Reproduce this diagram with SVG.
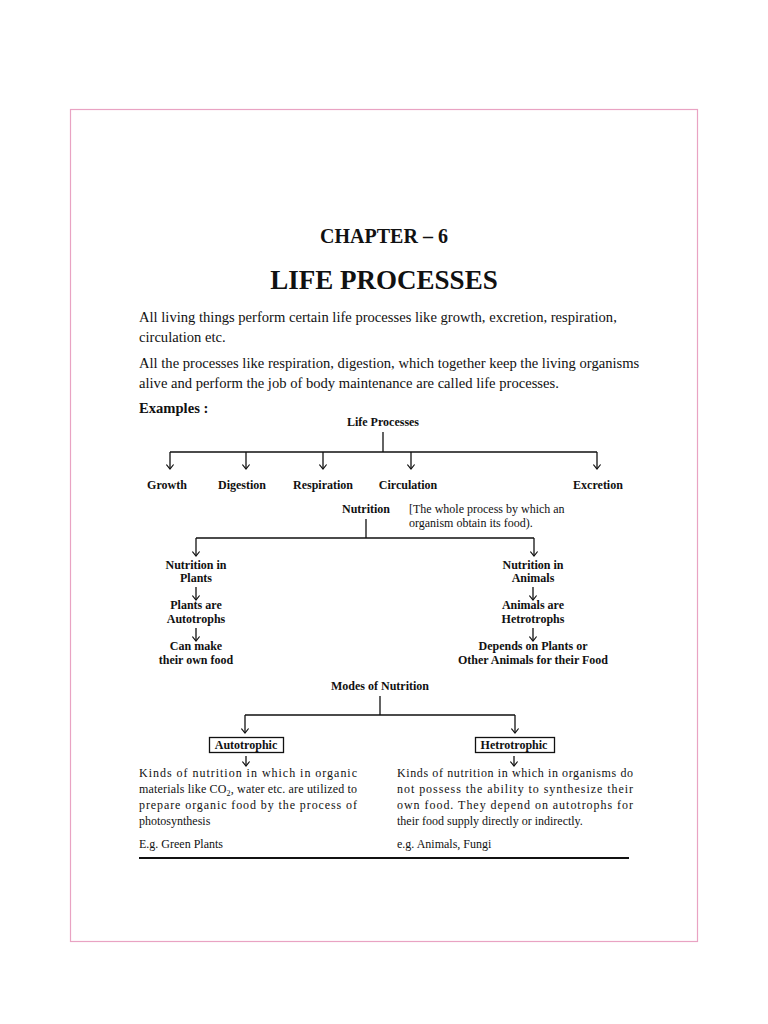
<svg xmlns="http://www.w3.org/2000/svg" width="768" height="1024" viewBox="0 0 768 1024">
<style>
text{font-family:"Liberation Serif","Times New Roman",serif;fill:#111}
.b{font-weight:bold}
.n{font-size:12px;font-weight:bold;text-anchor:middle}
.p{font-size:14.6px}
.s{font-size:12px}
.l{stroke:#111;stroke-width:1.3;fill:none}
</style>
<defs><marker id="d" viewBox="0 0 10 10" refX="5" refY="9" markerWidth="9" markerHeight="9" markerUnits="userSpaceOnUse"><path d="M1,4 L5,9 L9,4" fill="none" stroke="#111" stroke-width="1.3"/></marker></defs>
<rect x="70.5" y="109.5" width="627" height="832" fill="none" stroke="#e9a3c3" stroke-width="1.2"/>
<text x="384" y="243" class="b" font-size="20" text-anchor="middle">CHAPTER – 6</text>
<text x="384" y="289" class="b" font-size="27" text-anchor="middle">LIFE PROCESSES</text>
<text class="p" x="139" y="322">All living things perform certain life processes like growth, excretion, respiration,</text>
<text class="p" x="139" y="342">circulation etc.</text>
<text class="p" x="139" y="368">All the processes like respiration, digestion, which together keep the living organisms</text>
<text class="p" x="139" y="388">alive and perform the job of body maintenance are called life processes.</text>
<text class="p b" x="139" y="413">Examples :</text>
<g id="connectors">
<path class="l" d="M383,432V452M170,452H597"/>
<path class="l" marker-end="url(#d)" d="M170,452V469"/>
<path class="l" marker-end="url(#d)" d="M246,452V469"/>
<path class="l" marker-end="url(#d)" d="M323,452V469"/>
<path class="l" marker-end="url(#d)" d="M411,452V469"/>
<path class="l" marker-end="url(#d)" d="M597,452V469"/>
<path class="l" d="M366,519V538M196,538H534"/>
<path class="l" marker-end="url(#d)" d="M196,538V556"/>
<path class="l" marker-end="url(#d)" d="M534,538V556"/>
<path class="l" marker-end="url(#d)" d="M196,587V600"/>
<path class="l" marker-end="url(#d)" d="M196,628V641"/>
<path class="l" marker-end="url(#d)" d="M533,587V600"/>
<path class="l" marker-end="url(#d)" d="M533,628V641"/>
<path class="l" d="M380,696V715M245,715H515"/>
<path class="l" marker-end="url(#d)" d="M245,715V733"/>
<path class="l" marker-end="url(#d)" d="M515,715V733"/>
<path class="l" marker-end="url(#d)" d="M246,756V766"/>
<path class="l" marker-end="url(#d)" d="M514,756V766"/>
</g>
<g id="life"><text class="n" x="383" y="426">Life Processes</text></g>
<g id="growth"><text class="n" x="167" y="489">Growth</text></g>
<g id="digestion"><text class="n" x="242" y="489">Digestion</text></g>
<g id="respiration"><text class="n" x="323" y="489">Respiration</text></g>
<g id="circulation"><text class="n" x="408" y="489">Circulation</text></g>
<g id="excretion"><text class="n" x="598" y="489">Excretion</text></g>
<g id="nutrition"><text class="n" x="366" y="513">Nutrition</text>
<text class="s" x="409" y="513">[The whole process by which an</text>
<text class="s" x="409" y="527">organism obtain its food).</text></g>
<g id="plants"><text class="n" x="196" y="569">Nutrition in</text><text class="n" x="196" y="582">Plants</text>
<text class="n" x="196" y="609">Plants are</text><text class="n" x="196" y="623">Autotrophs</text>
<text class="n" x="196" y="650">Can make</text><text class="n" x="196" y="664">their own food</text></g>
<g id="animals"><text class="n" x="533" y="569">Nutrition in</text><text class="n" x="533" y="582">Animals</text>
<text class="n" x="533" y="609">Animals are</text><text class="n" x="533" y="623">Hetrotrophs</text>
<text class="n" x="533" y="650">Depends on Plants or</text><text class="n" x="533" y="664">Other Animals for their Food</text></g>
<g id="modes"><text class="n" x="380" y="690">Modes of Nutrition</text></g>
<g id="auto"><rect x="209.5" y="737.5" width="74" height="15" fill="#fff" stroke="#111" stroke-width="1.3"/><text class="n" x="246" y="749">Autotrophic</text>
<text class="s" x="139" y="777" textLength="218" lengthAdjust="spacing">Kinds of nutrition in which in organic</text>
<text class="s" x="139" y="793" textLength="218" lengthAdjust="spacing">materials like CO<tspan font-size="8" dy="3">2</tspan><tspan dy="-3">, water etc. are utilized to</tspan></text>
<text class="s" x="139" y="809" textLength="218" lengthAdjust="spacing">prepare organic food by the process of</text>
<text class="s" x="139" y="825">photosynthesis</text>
<text class="s" x="139" y="848">E.g. Green Plants</text></g>
<g id="hetero"><rect x="475.5" y="737.5" width="79" height="15" fill="#fff" stroke="#111" stroke-width="1.3"/><text class="n" x="514" y="749">Hetrotrophic</text>
<text class="s" x="397" y="777" textLength="236" lengthAdjust="spacing">Kinds of nutrition in which in organisms do</text>
<text class="s" x="397" y="793" textLength="236" lengthAdjust="spacing">not possess the ability to synthesize their</text>
<text class="s" x="397" y="809" textLength="236" lengthAdjust="spacing">own food. They depend on autotrophs for</text>
<text class="s" x="397" y="825">their food supply directly or indirectly.</text>
<text class="s" x="397" y="848">e.g. Animals, Fungi</text></g>
<line x1="139" y1="858" x2="629" y2="858" stroke="#111" stroke-width="2"/>
</svg>
